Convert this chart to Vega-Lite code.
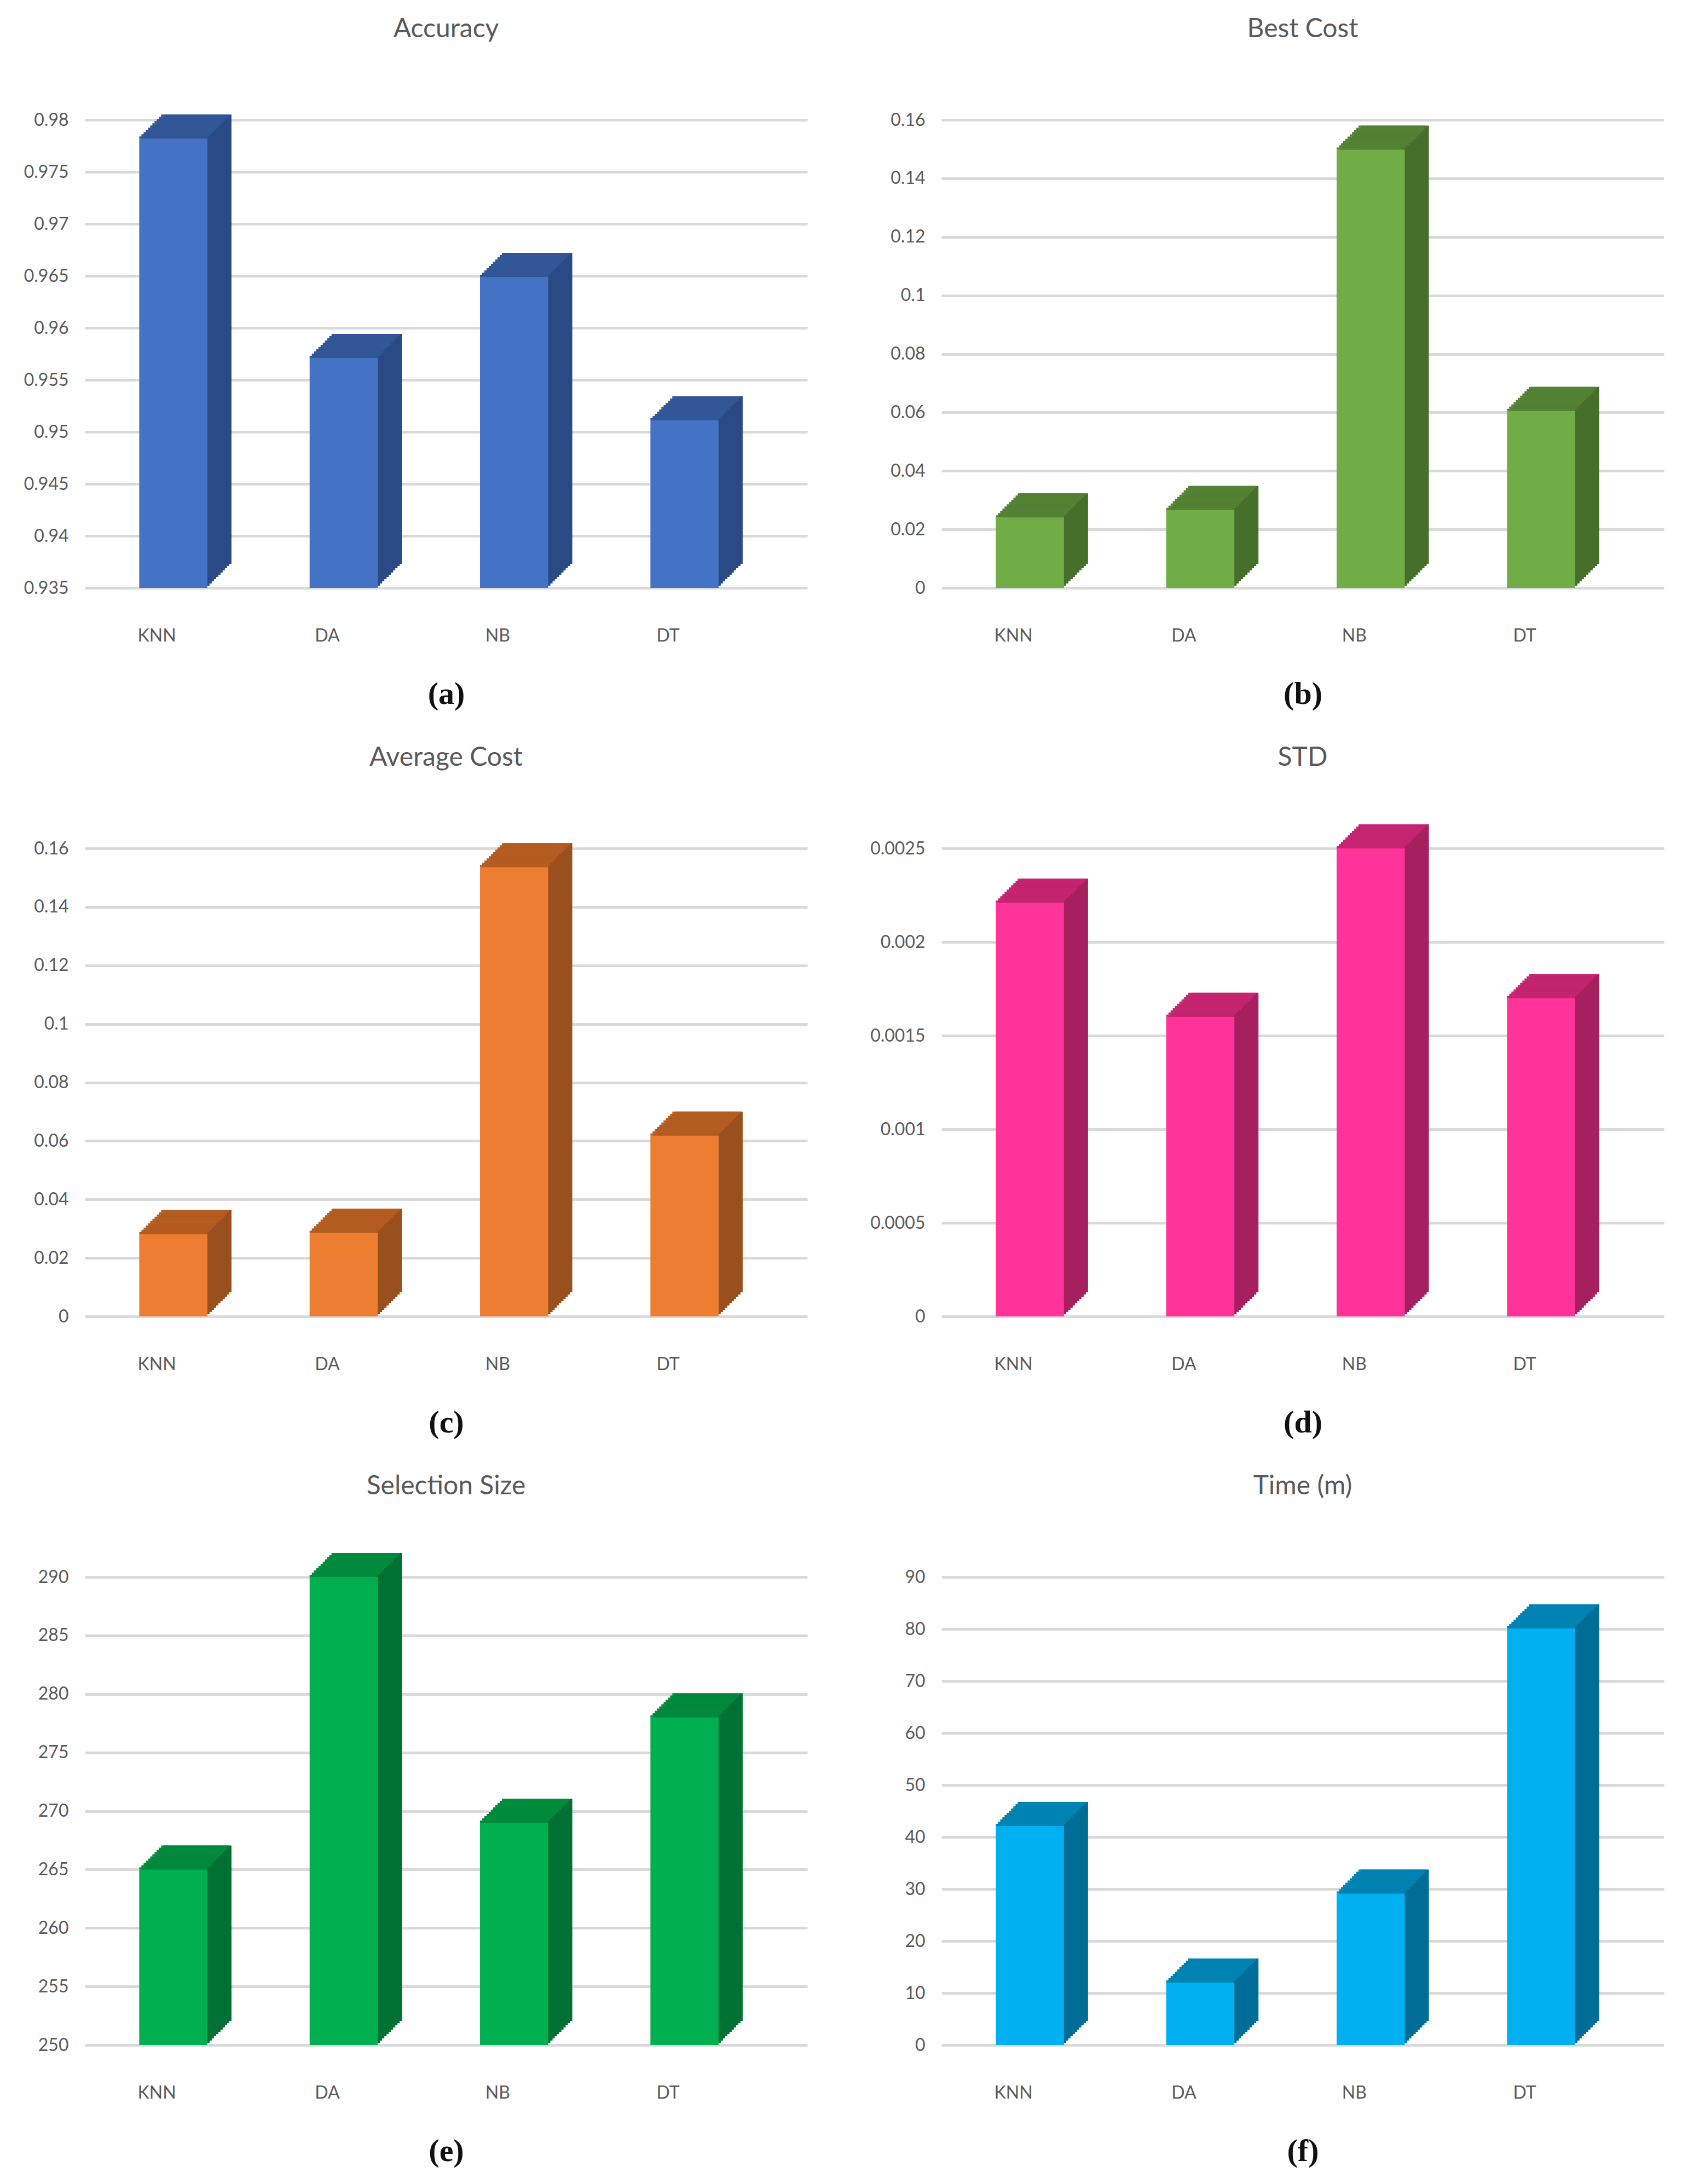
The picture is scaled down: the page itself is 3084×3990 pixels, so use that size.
{
  "$schema": "https://vega.github.io/schema/vega-lite/v6.json",
  "padding": {"left": 15, "top": 30, "right": 5, "bottom": 5},
  "background": "white",
  "config": {
    "font": "Lato",
    "view": {"stroke": null},
    "title": {"font": "Lato", "fontSize": 48, "fontWeight": "normal", "color": "#595959", "offset": 91},
    "axis": {"labelFont": "Lato", "labelFontSize": 32, "labelColor": "#595959", "domain": false, "ticks": false},
    "axisY": {"grid": true, "gridColor": "#d9d9d9", "gridWidth": 5, "labelPadding": 30, "minExtent": 140, "maxExtent": 140, "title": null, "format": "~r"},
    "axisX": {"grid": false, "labelAngle": 0, "labelPadding": 72, "labelOffset": -30, "titleFont": "Liberation Serif", "titleFontWeight": "bold", "titleFontSize": 58, "titleColor": "#111111", "titlePadding": 62}
  },
  "spacing": 64,
  "vconcat": [
    {
      "spacing": 105,
      "hconcat": [
        {
          "width": 1320, "height": 855,
          "title": "Accuracy",
          "data": {"values": [
            {"model": "KNN", "value": 0.9782},
            {"model": "DA", "value": 0.9571},
            {"model": "NB", "value": 0.9649},
            {"model": "DT", "value": 0.9511}
          ]},
          "encoding": {
            "x": {"field": "model", "type": "nominal", "sort": null, "scale": {"paddingInner": 0.6, "paddingOuter": 0.42, "align": 0.38}, "axis": {"title": "(a)"}},
            "y": {"field": "value", "type": "quantitative", "scale": {"domain": [0.935, 0.98], "zero": false, "clamp": true}, "axis": {"values": [0.935, 0.94, 0.945, 0.95, 0.955, 0.96, 0.965, 0.97, 0.975, 0.98]}}
          },
          "layer": [
            {"mark": {"type": "rule", "strokeOpacity": 0, "yOffset": -50}, "encoding": {"x": {"value": 0}, "x2": {"value": 10}, "y": {"datum": 0.98}}},
            {"mark": {"type": "bar", "color": "#2a4a85", "xOffset": 4, "yOffset": -4}},
            {"mark": {"type": "bar", "color": "#2a4a85", "xOffset": 8, "yOffset": -8}},
            {"mark": {"type": "bar", "color": "#2a4a85", "xOffset": 12, "yOffset": -12}},
            {"mark": {"type": "bar", "color": "#2a4a85", "xOffset": 16, "yOffset": -16}},
            {"mark": {"type": "bar", "color": "#2a4a85", "xOffset": 20, "yOffset": -20}},
            {"mark": {"type": "bar", "color": "#2a4a85", "xOffset": 24, "yOffset": -24}},
            {"mark": {"type": "bar", "color": "#2a4a85", "xOffset": 28, "yOffset": -28}},
            {"mark": {"type": "bar", "color": "#2a4a85", "xOffset": 32, "yOffset": -32}},
            {"mark": {"type": "bar", "color": "#2a4a85", "xOffset": 36, "yOffset": -36}},
            {"mark": {"type": "bar", "color": "#2a4a85", "xOffset": 40, "yOffset": -40}},
            {"mark": {"type": "bar", "color": "#2a4a85", "xOffset": 44, "yOffset": -44}},
            {"mark": {"type": "bar", "color": "#325797", "xOffset": 0, "yOffset": -4, "y2Offset": 0}, "encoding": {"y2": {"field": "value"}}},
            {"mark": {"type": "bar", "color": "#325797", "xOffset": 4, "yOffset": -8, "y2Offset": -4}, "encoding": {"y2": {"field": "value"}}},
            {"mark": {"type": "bar", "color": "#325797", "xOffset": 8, "yOffset": -12, "y2Offset": -8}, "encoding": {"y2": {"field": "value"}}},
            {"mark": {"type": "bar", "color": "#325797", "xOffset": 12, "yOffset": -16, "y2Offset": -12}, "encoding": {"y2": {"field": "value"}}},
            {"mark": {"type": "bar", "color": "#325797", "xOffset": 16, "yOffset": -20, "y2Offset": -16}, "encoding": {"y2": {"field": "value"}}},
            {"mark": {"type": "bar", "color": "#325797", "xOffset": 20, "yOffset": -24, "y2Offset": -20}, "encoding": {"y2": {"field": "value"}}},
            {"mark": {"type": "bar", "color": "#325797", "xOffset": 24, "yOffset": -28, "y2Offset": -24}, "encoding": {"y2": {"field": "value"}}},
            {"mark": {"type": "bar", "color": "#325797", "xOffset": 28, "yOffset": -32, "y2Offset": -28}, "encoding": {"y2": {"field": "value"}}},
            {"mark": {"type": "bar", "color": "#325797", "xOffset": 32, "yOffset": -36, "y2Offset": -32}, "encoding": {"y2": {"field": "value"}}},
            {"mark": {"type": "bar", "color": "#325797", "xOffset": 36, "yOffset": -40, "y2Offset": -36}, "encoding": {"y2": {"field": "value"}}},
            {"mark": {"type": "bar", "color": "#325797", "xOffset": 40, "yOffset": -44, "y2Offset": -40}, "encoding": {"y2": {"field": "value"}}},
            {"mark": {"type": "bar", "color": "#4472c4"}}
          ]
        },
        {
          "width": 1320, "height": 855,
          "title": "Best Cost",
          "data": {"values": [
            {"model": "KNN", "value": 0.0241},
            {"model": "DA", "value": 0.0266},
            {"model": "NB", "value": 0.1498},
            {"model": "DT", "value": 0.0605}
          ]},
          "encoding": {
            "x": {"field": "model", "type": "nominal", "sort": null, "scale": {"paddingInner": 0.6, "paddingOuter": 0.42, "align": 0.38}, "axis": {"title": "(b)"}},
            "y": {"field": "value", "type": "quantitative", "scale": {"domain": [0, 0.16]}, "axis": {"values": [0, 0.02, 0.04, 0.06, 0.08, 0.1, 0.12, 0.14, 0.16]}}
          },
          "layer": [
            {"mark": {"type": "rule", "strokeOpacity": 0, "yOffset": -50}, "encoding": {"x": {"value": 0}, "x2": {"value": 10}, "y": {"datum": 0.16}}},
            {"mark": {"type": "bar", "color": "#466f2c", "xOffset": 4, "yOffset": -4}},
            {"mark": {"type": "bar", "color": "#466f2c", "xOffset": 8, "yOffset": -8}},
            {"mark": {"type": "bar", "color": "#466f2c", "xOffset": 12, "yOffset": -12}},
            {"mark": {"type": "bar", "color": "#466f2c", "xOffset": 16, "yOffset": -16}},
            {"mark": {"type": "bar", "color": "#466f2c", "xOffset": 20, "yOffset": -20}},
            {"mark": {"type": "bar", "color": "#466f2c", "xOffset": 24, "yOffset": -24}},
            {"mark": {"type": "bar", "color": "#466f2c", "xOffset": 28, "yOffset": -28}},
            {"mark": {"type": "bar", "color": "#466f2c", "xOffset": 32, "yOffset": -32}},
            {"mark": {"type": "bar", "color": "#466f2c", "xOffset": 36, "yOffset": -36}},
            {"mark": {"type": "bar", "color": "#466f2c", "xOffset": 40, "yOffset": -40}},
            {"mark": {"type": "bar", "color": "#466f2c", "xOffset": 44, "yOffset": -44}},
            {"mark": {"type": "bar", "color": "#548235", "xOffset": 0, "yOffset": -4, "y2Offset": 0}, "encoding": {"y2": {"field": "value"}}},
            {"mark": {"type": "bar", "color": "#548235", "xOffset": 4, "yOffset": -8, "y2Offset": -4}, "encoding": {"y2": {"field": "value"}}},
            {"mark": {"type": "bar", "color": "#548235", "xOffset": 8, "yOffset": -12, "y2Offset": -8}, "encoding": {"y2": {"field": "value"}}},
            {"mark": {"type": "bar", "color": "#548235", "xOffset": 12, "yOffset": -16, "y2Offset": -12}, "encoding": {"y2": {"field": "value"}}},
            {"mark": {"type": "bar", "color": "#548235", "xOffset": 16, "yOffset": -20, "y2Offset": -16}, "encoding": {"y2": {"field": "value"}}},
            {"mark": {"type": "bar", "color": "#548235", "xOffset": 20, "yOffset": -24, "y2Offset": -20}, "encoding": {"y2": {"field": "value"}}},
            {"mark": {"type": "bar", "color": "#548235", "xOffset": 24, "yOffset": -28, "y2Offset": -24}, "encoding": {"y2": {"field": "value"}}},
            {"mark": {"type": "bar", "color": "#548235", "xOffset": 28, "yOffset": -32, "y2Offset": -28}, "encoding": {"y2": {"field": "value"}}},
            {"mark": {"type": "bar", "color": "#548235", "xOffset": 32, "yOffset": -36, "y2Offset": -32}, "encoding": {"y2": {"field": "value"}}},
            {"mark": {"type": "bar", "color": "#548235", "xOffset": 36, "yOffset": -40, "y2Offset": -36}, "encoding": {"y2": {"field": "value"}}},
            {"mark": {"type": "bar", "color": "#548235", "xOffset": 40, "yOffset": -44, "y2Offset": -40}, "encoding": {"y2": {"field": "value"}}},
            {"mark": {"type": "bar", "color": "#70ad47"}}
          ]
        }
      ]
    },
    {
      "spacing": 105,
      "hconcat": [
        {
          "width": 1320, "height": 855,
          "title": "Average Cost",
          "data": {"values": [
            {"model": "KNN", "value": 0.0281},
            {"model": "DA", "value": 0.0286},
            {"model": "NB", "value": 0.1536},
            {"model": "DT", "value": 0.0618}
          ]},
          "encoding": {
            "x": {"field": "model", "type": "nominal", "sort": null, "scale": {"paddingInner": 0.6, "paddingOuter": 0.42, "align": 0.38}, "axis": {"title": "(c)"}},
            "y": {"field": "value", "type": "quantitative", "scale": {"domain": [0, 0.16]}, "axis": {"values": [0, 0.02, 0.04, 0.06, 0.08, 0.1, 0.12, 0.14, 0.16]}}
          },
          "layer": [
            {"mark": {"type": "rule", "strokeOpacity": 0, "yOffset": -50}, "encoding": {"x": {"value": 0}, "x2": {"value": 10}, "y": {"datum": 0.16}}},
            {"mark": {"type": "bar", "color": "#9a4f1e", "xOffset": 4, "yOffset": -4}},
            {"mark": {"type": "bar", "color": "#9a4f1e", "xOffset": 8, "yOffset": -8}},
            {"mark": {"type": "bar", "color": "#9a4f1e", "xOffset": 12, "yOffset": -12}},
            {"mark": {"type": "bar", "color": "#9a4f1e", "xOffset": 16, "yOffset": -16}},
            {"mark": {"type": "bar", "color": "#9a4f1e", "xOffset": 20, "yOffset": -20}},
            {"mark": {"type": "bar", "color": "#9a4f1e", "xOffset": 24, "yOffset": -24}},
            {"mark": {"type": "bar", "color": "#9a4f1e", "xOffset": 28, "yOffset": -28}},
            {"mark": {"type": "bar", "color": "#9a4f1e", "xOffset": 32, "yOffset": -32}},
            {"mark": {"type": "bar", "color": "#9a4f1e", "xOffset": 36, "yOffset": -36}},
            {"mark": {"type": "bar", "color": "#9a4f1e", "xOffset": 40, "yOffset": -40}},
            {"mark": {"type": "bar", "color": "#9a4f1e", "xOffset": 44, "yOffset": -44}},
            {"mark": {"type": "bar", "color": "#b55d21", "xOffset": 0, "yOffset": -4, "y2Offset": 0}, "encoding": {"y2": {"field": "value"}}},
            {"mark": {"type": "bar", "color": "#b55d21", "xOffset": 4, "yOffset": -8, "y2Offset": -4}, "encoding": {"y2": {"field": "value"}}},
            {"mark": {"type": "bar", "color": "#b55d21", "xOffset": 8, "yOffset": -12, "y2Offset": -8}, "encoding": {"y2": {"field": "value"}}},
            {"mark": {"type": "bar", "color": "#b55d21", "xOffset": 12, "yOffset": -16, "y2Offset": -12}, "encoding": {"y2": {"field": "value"}}},
            {"mark": {"type": "bar", "color": "#b55d21", "xOffset": 16, "yOffset": -20, "y2Offset": -16}, "encoding": {"y2": {"field": "value"}}},
            {"mark": {"type": "bar", "color": "#b55d21", "xOffset": 20, "yOffset": -24, "y2Offset": -20}, "encoding": {"y2": {"field": "value"}}},
            {"mark": {"type": "bar", "color": "#b55d21", "xOffset": 24, "yOffset": -28, "y2Offset": -24}, "encoding": {"y2": {"field": "value"}}},
            {"mark": {"type": "bar", "color": "#b55d21", "xOffset": 28, "yOffset": -32, "y2Offset": -28}, "encoding": {"y2": {"field": "value"}}},
            {"mark": {"type": "bar", "color": "#b55d21", "xOffset": 32, "yOffset": -36, "y2Offset": -32}, "encoding": {"y2": {"field": "value"}}},
            {"mark": {"type": "bar", "color": "#b55d21", "xOffset": 36, "yOffset": -40, "y2Offset": -36}, "encoding": {"y2": {"field": "value"}}},
            {"mark": {"type": "bar", "color": "#b55d21", "xOffset": 40, "yOffset": -44, "y2Offset": -40}, "encoding": {"y2": {"field": "value"}}},
            {"mark": {"type": "bar", "color": "#ed7d31"}}
          ]
        },
        {
          "width": 1320, "height": 855,
          "title": "STD",
          "data": {"values": [
            {"model": "KNN", "value": 0.00221},
            {"model": "DA", "value": 0.0016},
            {"model": "NB", "value": 0.0025},
            {"model": "DT", "value": 0.0017}
          ]},
          "encoding": {
            "x": {"field": "model", "type": "nominal", "sort": null, "scale": {"paddingInner": 0.6, "paddingOuter": 0.42, "align": 0.38}, "axis": {"title": "(d)"}},
            "y": {"field": "value", "type": "quantitative", "scale": {"domain": [0, 0.0025]}, "axis": {"values": [0, 0.0005, 0.001, 0.0015, 0.002, 0.0025]}}
          },
          "layer": [
            {"mark": {"type": "rule", "strokeOpacity": 0, "yOffset": -50}, "encoding": {"x": {"value": 0}, "x2": {"value": 10}, "y": {"datum": 0.0025}}},
            {"mark": {"type": "bar", "color": "#a61f5e", "xOffset": 4, "yOffset": -4}},
            {"mark": {"type": "bar", "color": "#a61f5e", "xOffset": 8, "yOffset": -8}},
            {"mark": {"type": "bar", "color": "#a61f5e", "xOffset": 12, "yOffset": -12}},
            {"mark": {"type": "bar", "color": "#a61f5e", "xOffset": 16, "yOffset": -16}},
            {"mark": {"type": "bar", "color": "#a61f5e", "xOffset": 20, "yOffset": -20}},
            {"mark": {"type": "bar", "color": "#a61f5e", "xOffset": 24, "yOffset": -24}},
            {"mark": {"type": "bar", "color": "#a61f5e", "xOffset": 28, "yOffset": -28}},
            {"mark": {"type": "bar", "color": "#a61f5e", "xOffset": 32, "yOffset": -32}},
            {"mark": {"type": "bar", "color": "#a61f5e", "xOffset": 36, "yOffset": -36}},
            {"mark": {"type": "bar", "color": "#a61f5e", "xOffset": 40, "yOffset": -40}},
            {"mark": {"type": "bar", "color": "#a61f5e", "xOffset": 44, "yOffset": -44}},
            {"mark": {"type": "bar", "color": "#c42470", "xOffset": 0, "yOffset": -4, "y2Offset": 0}, "encoding": {"y2": {"field": "value"}}},
            {"mark": {"type": "bar", "color": "#c42470", "xOffset": 4, "yOffset": -8, "y2Offset": -4}, "encoding": {"y2": {"field": "value"}}},
            {"mark": {"type": "bar", "color": "#c42470", "xOffset": 8, "yOffset": -12, "y2Offset": -8}, "encoding": {"y2": {"field": "value"}}},
            {"mark": {"type": "bar", "color": "#c42470", "xOffset": 12, "yOffset": -16, "y2Offset": -12}, "encoding": {"y2": {"field": "value"}}},
            {"mark": {"type": "bar", "color": "#c42470", "xOffset": 16, "yOffset": -20, "y2Offset": -16}, "encoding": {"y2": {"field": "value"}}},
            {"mark": {"type": "bar", "color": "#c42470", "xOffset": 20, "yOffset": -24, "y2Offset": -20}, "encoding": {"y2": {"field": "value"}}},
            {"mark": {"type": "bar", "color": "#c42470", "xOffset": 24, "yOffset": -28, "y2Offset": -24}, "encoding": {"y2": {"field": "value"}}},
            {"mark": {"type": "bar", "color": "#c42470", "xOffset": 28, "yOffset": -32, "y2Offset": -28}, "encoding": {"y2": {"field": "value"}}},
            {"mark": {"type": "bar", "color": "#c42470", "xOffset": 32, "yOffset": -36, "y2Offset": -32}, "encoding": {"y2": {"field": "value"}}},
            {"mark": {"type": "bar", "color": "#c42470", "xOffset": 36, "yOffset": -40, "y2Offset": -36}, "encoding": {"y2": {"field": "value"}}},
            {"mark": {"type": "bar", "color": "#c42470", "xOffset": 40, "yOffset": -44, "y2Offset": -40}, "encoding": {"y2": {"field": "value"}}},
            {"mark": {"type": "bar", "color": "#ff3399"}}
          ]
        }
      ]
    },
    {
      "spacing": 105,
      "hconcat": [
        {
          "width": 1320, "height": 855,
          "title": "Selection Size",
          "data": {"values": [
            {"model": "KNN", "value": 265},
            {"model": "DA", "value": 290},
            {"model": "NB", "value": 269},
            {"model": "DT", "value": 278}
          ]},
          "encoding": {
            "x": {"field": "model", "type": "nominal", "sort": null, "scale": {"paddingInner": 0.6, "paddingOuter": 0.42, "align": 0.38}, "axis": {"title": "(e)"}},
            "y": {"field": "value", "type": "quantitative", "scale": {"domain": [250, 290], "zero": false, "clamp": true}, "axis": {"values": [250, 255, 260, 265, 270, 275, 280, 285, 290]}}
          },
          "layer": [
            {"mark": {"type": "rule", "strokeOpacity": 0, "yOffset": -50}, "encoding": {"x": {"value": 0}, "x2": {"value": 10}, "y": {"datum": 290}}},
            {"mark": {"type": "bar", "color": "#007033", "xOffset": 4, "yOffset": -4}},
            {"mark": {"type": "bar", "color": "#007033", "xOffset": 8, "yOffset": -8}},
            {"mark": {"type": "bar", "color": "#007033", "xOffset": 12, "yOffset": -12}},
            {"mark": {"type": "bar", "color": "#007033", "xOffset": 16, "yOffset": -16}},
            {"mark": {"type": "bar", "color": "#007033", "xOffset": 20, "yOffset": -20}},
            {"mark": {"type": "bar", "color": "#007033", "xOffset": 24, "yOffset": -24}},
            {"mark": {"type": "bar", "color": "#007033", "xOffset": 28, "yOffset": -28}},
            {"mark": {"type": "bar", "color": "#007033", "xOffset": 32, "yOffset": -32}},
            {"mark": {"type": "bar", "color": "#007033", "xOffset": 36, "yOffset": -36}},
            {"mark": {"type": "bar", "color": "#007033", "xOffset": 40, "yOffset": -40}},
            {"mark": {"type": "bar", "color": "#007033", "xOffset": 44, "yOffset": -44}},
            {"mark": {"type": "bar", "color": "#008a3c", "xOffset": 0, "yOffset": -4, "y2Offset": 0}, "encoding": {"y2": {"field": "value"}}},
            {"mark": {"type": "bar", "color": "#008a3c", "xOffset": 4, "yOffset": -8, "y2Offset": -4}, "encoding": {"y2": {"field": "value"}}},
            {"mark": {"type": "bar", "color": "#008a3c", "xOffset": 8, "yOffset": -12, "y2Offset": -8}, "encoding": {"y2": {"field": "value"}}},
            {"mark": {"type": "bar", "color": "#008a3c", "xOffset": 12, "yOffset": -16, "y2Offset": -12}, "encoding": {"y2": {"field": "value"}}},
            {"mark": {"type": "bar", "color": "#008a3c", "xOffset": 16, "yOffset": -20, "y2Offset": -16}, "encoding": {"y2": {"field": "value"}}},
            {"mark": {"type": "bar", "color": "#008a3c", "xOffset": 20, "yOffset": -24, "y2Offset": -20}, "encoding": {"y2": {"field": "value"}}},
            {"mark": {"type": "bar", "color": "#008a3c", "xOffset": 24, "yOffset": -28, "y2Offset": -24}, "encoding": {"y2": {"field": "value"}}},
            {"mark": {"type": "bar", "color": "#008a3c", "xOffset": 28, "yOffset": -32, "y2Offset": -28}, "encoding": {"y2": {"field": "value"}}},
            {"mark": {"type": "bar", "color": "#008a3c", "xOffset": 32, "yOffset": -36, "y2Offset": -32}, "encoding": {"y2": {"field": "value"}}},
            {"mark": {"type": "bar", "color": "#008a3c", "xOffset": 36, "yOffset": -40, "y2Offset": -36}, "encoding": {"y2": {"field": "value"}}},
            {"mark": {"type": "bar", "color": "#008a3c", "xOffset": 40, "yOffset": -44, "y2Offset": -40}, "encoding": {"y2": {"field": "value"}}},
            {"mark": {"type": "bar", "color": "#00b050"}}
          ]
        },
        {
          "width": 1320, "height": 855,
          "title": "Time (m)",
          "data": {"values": [
            {"model": "KNN", "value": 42.1},
            {"model": "DA", "value": 12},
            {"model": "NB", "value": 29.1},
            {"model": "DT", "value": 80.1}
          ]},
          "encoding": {
            "x": {"field": "model", "type": "nominal", "sort": null, "scale": {"paddingInner": 0.6, "paddingOuter": 0.42, "align": 0.38}, "axis": {"title": "(f)"}},
            "y": {"field": "value", "type": "quantitative", "scale": {"domain": [0, 90]}, "axis": {"values": [0, 10, 20, 30, 40, 50, 60, 70, 80, 90]}}
          },
          "layer": [
            {"mark": {"type": "rule", "strokeOpacity": 0, "yOffset": -50}, "encoding": {"x": {"value": 0}, "x2": {"value": 10}, "y": {"datum": 90}}},
            {"mark": {"type": "bar", "color": "#006d96", "xOffset": 4, "yOffset": -4}},
            {"mark": {"type": "bar", "color": "#006d96", "xOffset": 8, "yOffset": -8}},
            {"mark": {"type": "bar", "color": "#006d96", "xOffset": 12, "yOffset": -12}},
            {"mark": {"type": "bar", "color": "#006d96", "xOffset": 16, "yOffset": -16}},
            {"mark": {"type": "bar", "color": "#006d96", "xOffset": 20, "yOffset": -20}},
            {"mark": {"type": "bar", "color": "#006d96", "xOffset": 24, "yOffset": -24}},
            {"mark": {"type": "bar", "color": "#006d96", "xOffset": 28, "yOffset": -28}},
            {"mark": {"type": "bar", "color": "#006d96", "xOffset": 32, "yOffset": -32}},
            {"mark": {"type": "bar", "color": "#006d96", "xOffset": 36, "yOffset": -36}},
            {"mark": {"type": "bar", "color": "#006d96", "xOffset": 40, "yOffset": -40}},
            {"mark": {"type": "bar", "color": "#006d96", "xOffset": 44, "yOffset": -44}},
            {"mark": {"type": "bar", "color": "#0083b3", "xOffset": 0, "yOffset": -4, "y2Offset": 0}, "encoding": {"y2": {"field": "value"}}},
            {"mark": {"type": "bar", "color": "#0083b3", "xOffset": 4, "yOffset": -8, "y2Offset": -4}, "encoding": {"y2": {"field": "value"}}},
            {"mark": {"type": "bar", "color": "#0083b3", "xOffset": 8, "yOffset": -12, "y2Offset": -8}, "encoding": {"y2": {"field": "value"}}},
            {"mark": {"type": "bar", "color": "#0083b3", "xOffset": 12, "yOffset": -16, "y2Offset": -12}, "encoding": {"y2": {"field": "value"}}},
            {"mark": {"type": "bar", "color": "#0083b3", "xOffset": 16, "yOffset": -20, "y2Offset": -16}, "encoding": {"y2": {"field": "value"}}},
            {"mark": {"type": "bar", "color": "#0083b3", "xOffset": 20, "yOffset": -24, "y2Offset": -20}, "encoding": {"y2": {"field": "value"}}},
            {"mark": {"type": "bar", "color": "#0083b3", "xOffset": 24, "yOffset": -28, "y2Offset": -24}, "encoding": {"y2": {"field": "value"}}},
            {"mark": {"type": "bar", "color": "#0083b3", "xOffset": 28, "yOffset": -32, "y2Offset": -28}, "encoding": {"y2": {"field": "value"}}},
            {"mark": {"type": "bar", "color": "#0083b3", "xOffset": 32, "yOffset": -36, "y2Offset": -32}, "encoding": {"y2": {"field": "value"}}},
            {"mark": {"type": "bar", "color": "#0083b3", "xOffset": 36, "yOffset": -40, "y2Offset": -36}, "encoding": {"y2": {"field": "value"}}},
            {"mark": {"type": "bar", "color": "#0083b3", "xOffset": 40, "yOffset": -44, "y2Offset": -40}, "encoding": {"y2": {"field": "value"}}},
            {"mark": {"type": "bar", "color": "#00b0f0"}}
          ]
        }
      ]
    }
  ]
}
